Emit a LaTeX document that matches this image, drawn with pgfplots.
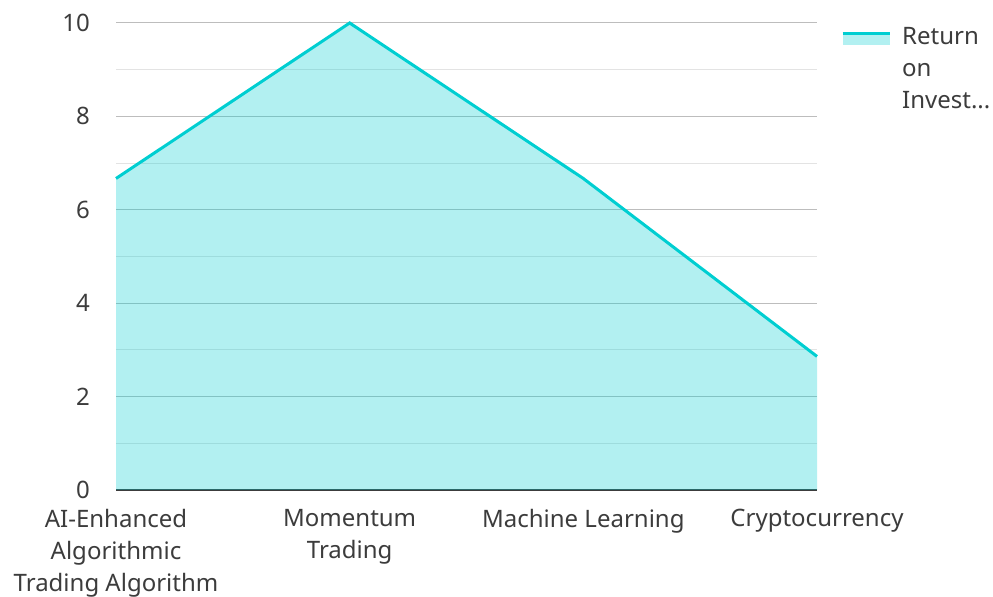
\documentclass[border=0pt]{standalone}
\usepackage{pgfplots}
\pgfplotsset{compat=1.18}
\usepackage{fontspec}
\setmainfont{Noto Sans}
\definecolor{tq}{HTML}{00CED1}
\definecolor{txt}{HTML}{3C3C3C}
\definecolor{gmaj}{HTML}{BDBDBD}
\definecolor{gmin}{HTML}{E3E3E3}
\begin{document}
\fontsize{24bp}{32bp}\selectfont
\begin{tikzpicture}[x=1bp,y=1bp]
\useasboundingbox (0,0) rectangle (993,597);
\begin{axis}[
  at={(116bp,107bp)}, anchor=south west,
  scale only axis, width=701bp, height=467bp,
  xmin=0, xmax=3, ymin=0, ymax=10,
  axis x line*=bottom, axis y line*=left,
  y axis line style={draw=none},
  x axis line style={draw=txt, line width=1.5bp},
  xtick={0,1,2,3},
  xticklabels={{AI-Enhanced\\Algorithmic\\Trading Algorithm},{Momentum\\Trading},{Machine Learning},{Cryptocurrency}},
  xticklabel style={align=center, text=txt, font=\fontsize{24bp}{32bp}\selectfont, yshift=-11bp, text depth=0pt},
  ytick={0,2,4,6,8,10},
  minor ytick={1,3,5,7,9},
  yticklabel style={text=txt, font=\fontsize{24bp}{32bp}\selectfont, xshift=-18bp},
  /pgf/number format/assume math mode=true,
  major tick length=0pt, minor tick length=0pt,
  ymajorgrids, yminorgrids,
  major grid style={draw=gmaj, line width=1bp},
  minor grid style={draw=gmin, line width=1bp},
  legend style={at={(1,1)}, anchor=north west, xshift=24bp, yshift=-2bp, draw=none, fill=none,
    font=\fontsize{24bp}{32bp}\selectfont, text=txt, cells={align=left}, inner sep=0pt},
  legend cell align=left,
  clip=false,
]
\addplot[draw=none, fill=tq, fill opacity=0.3, forget plot] coordinates {(0,6.67) (1,10) (2,6.67) (3,2.86)} \closedcycle;
\addplot[tq, line width=3bp, mark=none,
  legend image code/.code={
    \path[draw=none, fill=tq, fill opacity=0.3] (0bp,25bp) rectangle (47bp,36bp);
    \draw[tq, line width=3bp] (0bp,36bp) -- (47bp,36bp);
    \path (56bp,36bp);
  }] coordinates {(0,6.67) (1,10) (2,6.67) (3,2.86)};
\addlegendentry{Return\\on\\Invest...}
\end{axis}
\end{tikzpicture}
\end{document}
